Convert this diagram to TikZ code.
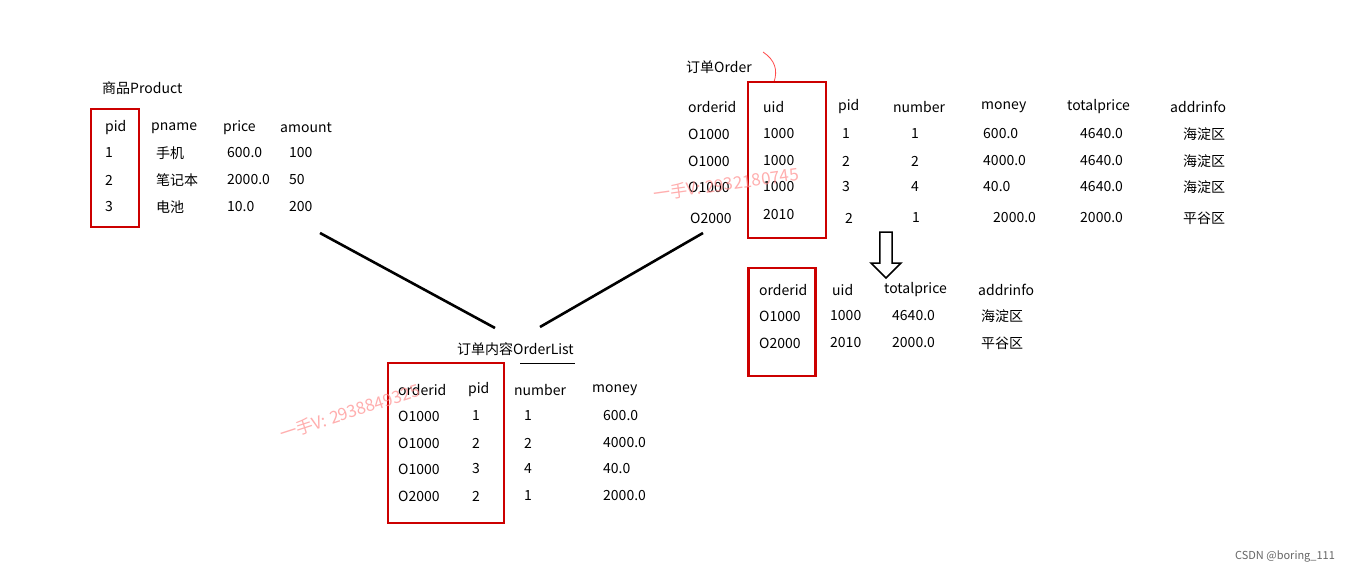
\documentclass[tikz,border=0pt]{standalone}
\usepackage{fontspec}
\setmainfont{Noto Sans CJK SC}
\usetikzlibrary{shapes.arrows}
\begin{document}
\begin{tikzpicture}[x=1pt,y=-1pt,
  t/.style={anchor=west,inner sep=0pt,font=\fontsize{14}{14}\selectfont},
  redbox/.style={draw=red!80!black,line width=2.2pt},
  conn/.style={line width=2.6pt,black}]
\useasboundingbox[fill=white] (0,0) rectangle (1371,575);
% Product
\node[t] (pt) at (102,88) {商品Product};
\foreach \x/\s in {105/pid,151/pname,223/price,280/amount} \node[t] at (\x,128) {\s};
\foreach \y/\a/\b/\c/\d in {153/1/手机/600.0/100,180/2/笔记本/2000.0/50,207/3/电池/10.0/200}{
  \node[t] at (105,\y) {\a}; \node[t] at (156,\y) {\b}; \node[t] at (227,\y) {\c}; \node[t] at (289,\y) {\d};}
\node[redbox,minimum width=48pt,minimum height=118pt] (pb) at (115,168) {};
% Order
\node[t] (ot) at (686,67) {订单Order};
\draw[red!70,line width=0.8pt] (763,52) .. controls (775,60) and (778,70) .. (774,82);
\foreach \x/\s in {688/orderid,763/uid,838/pid,893/number,981/money,1067/totalprice,1170/addrinfo} \node[t] at (\x,107) {\s};
\foreach \y/\a/\b/\c/\d/\e/\f/\g in {134/O1000/1000/1/1/600.0/4640.0/海淀区,161/O1000/1000/2/2/4000.0/4640.0/海淀区,187/O1000/1000/3/4/40.0/4640.0/海淀区}{
  \node[t] at (688,\y) {\a}; \node[t] at (763,\y) {\b}; \node[t] at (842,\y) {\c}; \node[t] at (911,\y) {\d};
  \node[t] at (983,\y) {\e}; \node[t] at (1080,\y) {\f}; \node[t] at (1183,\y) {\g};}
\node[t] at (690,218) {O2000}; \node[t] at (763,215) {2010}; \node[t] at (845,218) {2}; \node[t] at (912,218) {1};
\node[t] at (993,218) {2000.0}; \node[t] at (1080,218) {2000.0}; \node[t] at (1183,218) {平谷区};
\node[redbox,minimum width=78pt,minimum height=156pt] (ub) at (787,160) {};
% arrow
\node[draw,line width=1.6pt,single arrow,shape border rotate=270,minimum height=46pt,minimum width=30pt,single arrow head extend=4pt,inner sep=2pt] (ar) at (886,252) {};
% Order result
\foreach \x/\s in {759/orderid,832/uid,884/totalprice,978/addrinfo} \node[t] at (\x,290) {\s};
\foreach \y/\a/\b/\c/\d in {316/O1000/1000/4640.0/海淀区,343/O2000/2010/2000.0/平谷区}{
  \node[t] at (759,\y) {\a}; \node[t] at (830,\y) {\b}; \node[t] at (892,\y) {\c}; \node[t] at (981,\y) {\d};}
\node[redbox,minimum width=67pt,minimum height=108pt] (rb) at (782,322) {};
% OrderList
\node[t] (lt) at (457,349) {订单内容OrderList};
\draw[line width=0.8pt] (520,363) -- (575,363);
\foreach \x/\s in {398/orderid,468/pid,514/number,592/money} \node[t] at (\x,390) {\s};
\foreach \y/\a/\b/\c/\d in {416/O1000/1/1/600.0,443/O1000/2/2/4000.0,469/O1000/3/4/40.0,496/O2000/2/1/2000.0}{
  \node[t] at (398,\y) {\a}; \node[t] at (472,\y) {\b}; \node[t] at (524,\y) {\c}; \node[t] at (603,\y) {\d};}
\node[redbox,minimum width=116pt,minimum height=160pt] (lb) at (446,443) {};
% connectors
\coordinate (c1) at (320,233); \coordinate (c2) at (495,328);
\coordinate (c3) at (540,327); \coordinate (c4) at (703,233);
\draw[conn] (c1) -- (c2);
\draw[conn] (c3) -- (c4);
% watermarks
\node[font=\fontsize{17}{17}\selectfont,text=red!45,opacity=0.7,rotate=18] (w1) at (350,412) {一手V: 2938849325};
\node[font=\fontsize{17}{17}\selectfont,text=red!45,opacity=0.7,rotate=8] (w2) at (726,184) {一手V: 2932180745};
\node[font=\fontsize{11}{11}\selectfont,text=gray!80!black] (cs) at (1285,556) {CSDN @boring\_111};
\end{tikzpicture}
\end{document}
